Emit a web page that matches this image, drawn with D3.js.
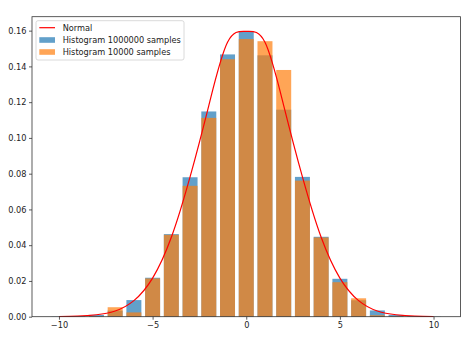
<!DOCTYPE html>
<html>
<head>
<meta charset="utf-8">
<script src="https://cdn.jsdelivr.net/npm/d3@7"></script>
<style>
  html, body { margin: 0; padding: 0; background: #fff; }
  svg { display: block; font-family: "DejaVu Sans", sans-serif; }
</style>
</head>
<body>
<svg id="chart" width="474" height="341"></svg>
<script>
// Bin centres (integer bins of width 1)
const bins = [-10, -9, -8, -7, -6, -5, -4, -3, -2, -1, 0, 1, 2, 3, 4, 5, 6, 7, 8, 9, 10];

// Normalised histogram heights
const histLarge = [0.0001, 0.0003, 0.0010, 0.0034, 0.0093, 0.0218, 0.0462, 0.0780, 0.1148, 0.1467,
                   0.1596, 0.1462, 0.1158, 0.0782, 0.0447, 0.0212, 0.0092, 0.0035, 0.0010, 0.0003, 0.0001];
const histSmall = [0.0000, 0.0000, 0.0002, 0.0053, 0.0024, 0.0214, 0.0458, 0.0732, 0.1112, 0.1440,
                   0.1553, 0.1541, 0.1380, 0.0761, 0.0443, 0.0193, 0.0103, 0.0008, 0.0002, 0.0000, 0.0000];

// Normal density sampled at the bin centres
const normalPdf = [0.0001, 0.0003, 0.0011, 0.0032, 0.0090, 0.0216, 0.0444, 0.0782, 0.1181, 0.1535,
                   0.1596, 0.1535, 0.1181, 0.0782, 0.0444, 0.0216, 0.0090, 0.0032, 0.0011, 0.0003, 0.0001];

const xTicks = [-10, -5, 0, 5, 10];
const yTicks = [0.00, 0.02, 0.04, 0.06, 0.08, 0.10, 0.12, 0.14, 0.16];

const legendLabels = ["Normal", "Histogram 1000000 samples", "Histogram 10000 samples"];

const barWidth = 0.8;
const blue = "#1f77b4", orange = "#ff7f0e", red = "#ff0000";
const fontSize = 8.2;

const svg = d3.select("#chart");
const plot = { left: 32, right: 460.5, top: 16.7, bottom: 316.7 };

const x = d3.scaleLinear().domain([-11.44, 11.44]).range([plot.left, plot.right]);
const y = d3.scaleLinear().domain([0, 0.1678]).range([plot.bottom, plot.top]);

// Histogram bars
function drawBars(values, color) {
  svg.append("g")
    .selectAll("rect")
    .data(bins.map((b, i) => ({ b, v: values[i] })))
    .join("rect")
    .attr("x", d => x(d.b - barWidth / 2))
    .attr("width", d => x(d.b + barWidth / 2) - x(d.b - barWidth / 2))
    .attr("y", d => y(d.v))
    .attr("height", d => y(0) - y(d.v))
    .attr("fill", color)
    .attr("fill-opacity", 0.7);
}
drawBars(histLarge, blue);
drawBars(histSmall, orange);

// Normal curve
const line = d3.line()
  .x((d, i) => x(bins[i]))
  .y(d => y(d))
  .curve(d3.curveNatural);
svg.append("path")
  .datum(normalPdf)
  .attr("d", line)
  .attr("fill", "none")
  .attr("stroke", red)
  .attr("stroke-width", 1.2);

// Axes
const fmtX = d => d < 0 ? "\u2212" + Math.abs(d) : String(d);
const xAxis = d3.axisBottom(x).tickValues(xTicks).tickFormat(fmtX).tickSizeOuter(0).tickSize(3).tickPadding(2.5);
const yAxis = d3.axisLeft(y).tickValues(yTicks).tickFormat(d3.format(".2f")).tickSizeOuter(0).tickSize(3).tickPadding(2.5);

const gx = svg.append("g").attr("transform", `translate(0,${plot.bottom})`).call(xAxis);
const gy = svg.append("g").attr("transform", `translate(${plot.left},0)`).call(yAxis);
[gx, gy].forEach(g => {
  g.select(".domain").remove();
  g.selectAll(".tick line").attr("stroke", "#333").attr("stroke-width", 0.8);
  g.selectAll(".tick text").attr("fill", "#222").attr("font-size", fontSize)
    .attr("font-family", "DejaVu Sans, sans-serif");
});

// Frame
svg.append("rect")
  .attr("x", plot.left).attr("y", plot.top)
  .attr("width", plot.right - plot.left).attr("height", plot.bottom - plot.top)
  .attr("fill", "none").attr("stroke", "#333").attr("stroke-width", 0.8);

// Legend
const lg = svg.append("g").attr("transform", "translate(36,20.7)");
lg.append("rect")
  .attr("width", 148).attr("height", 39.3)
  .attr("rx", 2).attr("ry", 2)
  .attr("fill", "#fff").attr("fill-opacity", 0.8)
  .attr("stroke", "#d0d0d0").attr("stroke-width", 0.8);
const rowY = [7, 19.3, 31.3];
lg.append("line")
  .attr("x1", 3.3).attr("x2", 19).attr("y1", rowY[0]).attr("y2", rowY[0])
  .attr("stroke", red).attr("stroke-width", 1.2);
[blue, orange].forEach((c, i) => {
  lg.append("rect")
    .attr("x", 3.3).attr("width", 15.7)
    .attr("y", rowY[i + 1] - 2.8).attr("height", 5.6)
    .attr("fill", c).attr("fill-opacity", 0.7);
});
legendLabels.forEach((t, i) => {
  lg.append("text")
    .attr("x", 26.7).attr("y", rowY[i])
    .attr("dy", "0.35em")
    .attr("font-size", fontSize)
    .attr("fill", "#222")
    .text(t);
});
</script>
</body>
</html>
